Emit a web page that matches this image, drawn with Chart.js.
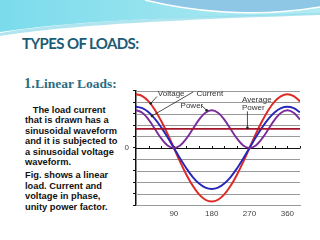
<!DOCTYPE html>
<html>
<head>
<meta charset="utf-8">
<script src="https://cdn.jsdelivr.net/npm/chart.js@4"></script>
<style>
  html, body { margin: 0; padding: 0; background: #fff; }
  #slide { position: relative; width: 320px; height: 240px; overflow: hidden; background: #fff; }
  #wave { position: absolute; left: 0; top: 0; }
  #title { position: absolute; left: 22px; top: 34px; font: bold 15px Lato, sans-serif; letter-spacing: -0.6px; color: #1b5c74; }
  #sub { position: absolute; left: 24px; top: 75px; font: bold 13.5px "Liberation Serif", serif; color: #2a6c82; }
  #body { position: absolute; left: 25px; top: 105px; width: 110px; font: bold 9.3px "Liberation Sans", Arial, sans-serif; color: #111; line-height: 10.4px; white-space: nowrap; }
  #body p { margin: 0 0 3px 0; }
  #wrap { position: absolute; left: 120px; top: 82px; width: 186px; height: 140px; }
</style>
</head>
<body>
<div id="slide">
  <svg id="wave" width="320" height="40">
    <defs>
      <linearGradient id="cy" x1="0" y1="0" x2="1" y2="0">
        <stop offset="0" stop-color="#7bdbeb"/>
        <stop offset="1" stop-color="#b2ebf3"/>
      </linearGradient>
    </defs>
    <path d="M0,0 H320 V14 C230,18 110,16 0,32 Z" fill="url(#cy)"/>
    <path d="M0,33 C70,21 170,17 320,13 L320,15 C170,20 70,25 0,36 Z" fill="#8fdaea" opacity="0.7"/>
    <path d="M145,0 C185,10 250,19 320,7 V0 Z" fill="#8ec6e6"/>
    <path d="M145,0 C185,10 250,19 320,7" fill="none" stroke="#fff" stroke-width="1.5"/>
  </svg>
  <div id="title">TYPES OF LOADS:</div>
  <div id="sub"><span style="font-size:14.5px">1.</span>Linear Loads:</div>
  <div id="body">
    <p>&nbsp;&nbsp;&nbsp;The load current<br>that is drawn has a<br>sinusoidal waveform<br>and it is subjected to<br>a sinusoidal voltage<br>waveform.</p>
    <p>Fig. shows a linear<br>load. Current and<br>voltage in phase,<br>unity power factor.</p>
  </div>
  <div id="wrap"><canvas id="c" width="186" height="140"></canvas></div>
</div>
<script>
// angle in degrees, sampled every 15
const angles = [0, 15, 30, 45, 60, 75, 90, 105, 120, 135, 150, 165, 180, 195, 210, 225, 240, 255, 270, 285, 300, 315, 330, 345, 360, 375, 390];
const voltage = [4.7, 4.54, 4.07, 3.32, 2.35, 1.22, 0, -1.22, -2.35, -3.32, -4.07, -4.54, -4.7, -4.54, -4.07, -3.32, -2.35, -1.22, 0, 1.22, 2.35, 3.32, 4.07, 4.54, 4.7, 4.54, 4.07];
const current = [3.6, 3.48, 3.12, 2.55, 1.8, 0.93, 0, -0.93, -1.8, -2.55, -3.12, -3.48, -3.6, -3.48, -3.12, -2.55, -1.8, -0.93, 0, 0.93, 1.8, 2.55, 3.12, 3.48, 3.6, 3.48, 3.12];
const power = [3.3, 3.08, 2.48, 1.65, 0.83, 0.22, 0, 0.22, 0.83, 1.65, 2.48, 3.08, 3.3, 3.08, 2.48, 1.65, 0.83, 0.22, 0, 0.22, 0.83, 1.65, 2.48, 3.08, 3.3, 3.08, 2.48];
const avgPower = 1.67;
const xTicks = [90, 180, 270, 360];
const yTicks = [-5, -4, -3, -2, -1, 0, 1, 2, 3, 4, 5];
const minorX = [30, 60, 90, 120, 150, 180, 210, 240, 270, 300, 330, 360, 390];

// callouts: text lines, text anchor and arrow tip in data units
const callouts = [
  { lines: ['Voltage'], at: [52, 4.7], from: [50, 4.5], to: [35, 3.9] },
  { lines: ['Current'], at: [144, 4.7], from: [136, 4.9], to: [38, 2.8] },
  { lines: ['Power'], at: [106, 3.7], from: [156, 3.7], to: [168, 3.3] },
  { lines: ['Average', 'Power'], at: [252, 4.2], from: [265, 3.2], to: [265, 1.75] }
];

const pts = (ys) => angles.map((a, i) => ({ x: a, y: ys[i] }));

const calloutPlugin = {
  id: 'callouts',
  beforeDatasetsDraw(chart) {
    const { ctx, chartArea, scales: { x, y } } = chart;
    ctx.save();
    // gray horizontal grid
    ctx.strokeStyle = '#999';
    ctx.lineWidth = 1;
    yTicks.forEach(v => {
      if (v === 0) return;
      const py = Math.round(y.getPixelForValue(v)) + 0.5;
      ctx.beginPath();
      ctx.moveTo(chartArea.left, py);
      ctx.lineTo(chartArea.right, py);
      ctx.stroke();
    });
    // black zero axis with its little tick marks
    const y0 = Math.round(y.getPixelForValue(0)) + 0.5;
    ctx.strokeStyle = '#111';
    ctx.lineWidth = 1.2;
    ctx.beginPath();
    ctx.moveTo(chartArea.left, y0);
    ctx.lineTo(chartArea.right, y0);
    ctx.stroke();
    ctx.lineWidth = 1;
    minorX.forEach(v => {
      const px = Math.round(x.getPixelForValue(v)) + 0.5;
      ctx.beginPath();
      ctx.moveTo(px, y0 - 2.5);
      ctx.lineTo(px, y0);
      ctx.stroke();
    });
    ctx.restore();
  },
  afterDatasetsDraw(chart) {
    const { ctx, scales: { x, y } } = chart;
    ctx.save();
    ctx.font = '8px "Liberation Sans", Arial, sans-serif';
    ctx.fillStyle = '#333';
    ctx.strokeStyle = '#222';
    ctx.lineWidth = 0.8;
    ctx.textBaseline = 'middle';
    callouts.forEach(c => {
      const tx = x.getPixelForValue(c.at[0]);
      const ty = y.getPixelForValue(c.at[1]);
      c.lines.forEach((l, i) => ctx.fillText(l, tx, ty + i * 8));
      const fx = x.getPixelForValue(c.from[0]), fy = y.getPixelForValue(c.from[1]);
      const ex = x.getPixelForValue(c.to[0]), ey = y.getPixelForValue(c.to[1]);
      ctx.beginPath();
      ctx.moveTo(fx, fy);
      ctx.lineTo(ex, ey);
      ctx.stroke();
      ctx.beginPath();
      ctx.arc(ex, ey, 1.3, 0, Math.PI * 2);
      ctx.fillStyle = '#222';
      ctx.fill();
      ctx.fillStyle = '#333';
    });
    ctx.restore();
  }
};

new Chart(document.getElementById('c'), {
  type: 'line',
  data: {
    datasets: [
      { label: 'Average Power', data: [{ x: 0, y: avgPower }, { x: 390, y: avgPower }], borderColor: '#a3162c', borderWidth: 1.6, tension: 0 },
      { label: 'Power', data: pts(power), borderColor: '#7a2c98', borderWidth: 1.9 },
      { label: 'Current', data: pts(current), borderColor: '#2626b8', borderWidth: 1.9 },
      { label: 'Voltage', data: pts(voltage), borderColor: '#dd2a26', borderWidth: 2 }
    ]
  },
  options: {
    responsive: false,
    animation: false,
    layout: { padding: { top: 5, right: 6, left: 0, bottom: 0 } },
    elements: { point: { radius: 0 }, line: { tension: 0.4 } },
    plugins: { legend: { display: false }, tooltip: { enabled: false } },
    scales: {
      x: {
        type: 'linear', min: 0, max: 390,
        afterBuildTicks: (s) => { s.ticks = xTicks.map(v => ({ value: v })); },
        grid: { display: false, drawTicks: false },
        border: { color: '#999' },
        ticks: { color: '#444', padding: 4, font: { size: 8, family: 'Liberation Sans' } },
        afterFit: (s) => { s.height = 17; }
      },
      y: {
        type: 'linear', min: -5, max: 5,
        afterBuildTicks: (s) => { s.ticks = yTicks.map(v => ({ value: v })); },
        ticks: { autoSkip: false, color: '#444', padding: 4, font: { size: 8, family: 'Liberation Sans' },
                 callback: (v) => (v === 0 ? '0' : '') },
        grid: { drawOnChartArea: false, tickColor: '#111', tickLength: 3 },
        border: { color: '#111', width: 1.5 },
        afterFit: (s) => { s.width = 16; }
      }
    }
  },
  plugins: [calloutPlugin]
});
</script>
</body>
</html>
